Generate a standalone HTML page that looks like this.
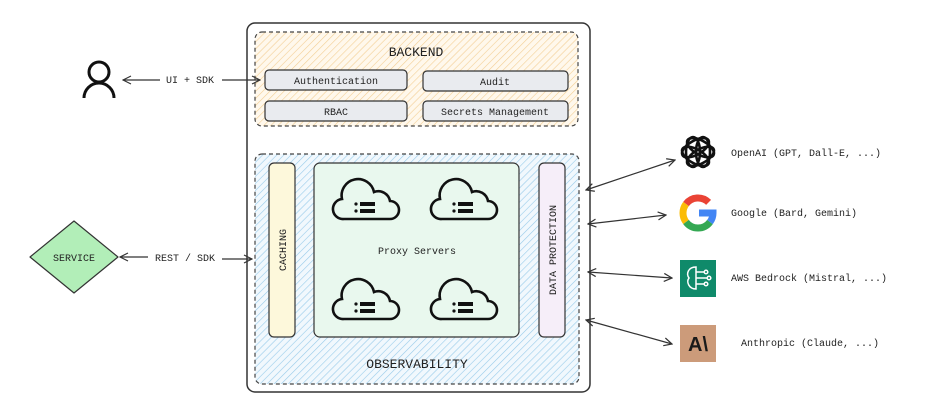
<!DOCTYPE html>
<html><head><meta charset="utf-8"><style>
body{margin:0;background:#fff;}
text{font-family:"Liberation Mono","DejaVu Sans Mono",monospace;fill:#222;}
</style></head><body>
<svg width="934" height="400" viewBox="0 0 934 400" xmlns="http://www.w3.org/2000/svg">
<defs>
<pattern id="ho" width="5" height="5" patternUnits="userSpaceOnUse" patternTransform="rotate(45)"><rect width="5" height="5" fill="#fff8ec"/><line x1="0" y1="0" x2="0" y2="5" stroke="#f3cf95" stroke-width="1.2"/></pattern>
<pattern id="hb" width="5" height="5" patternUnits="userSpaceOnUse" patternTransform="rotate(45)"><rect width="5" height="5" fill="#f1f8fd"/><line x1="0" y1="0" x2="0" y2="5" stroke="#98cbea" stroke-width="1.2"/></pattern>
<marker id="a" markerWidth="10" markerHeight="10" refX="9" refY="5" orient="auto-start-reverse" markerUnits="userSpaceOnUse"><path d="M1,1 L9,5 L1,9" fill="none" stroke="#333" stroke-width="1.2"/></marker>
<g id="cl"><path d="M10,39 A10,10 0 0 1 8,19 A16,16 0 0 1 40,12 A12,12 0 0 1 56,21 A9,9 0 0 1 56,39 Z" fill="none" stroke="#111" stroke-width="2.6"/>
<circle cx="22" cy="24" r="1.6" fill="#111"/><circle cx="22" cy="31" r="1.6" fill="#111"/><rect x="26" y="22" width="15" height="4" fill="#111"/><rect x="26" y="29" width="15" height="4" fill="#111"/></g>
</defs>
<rect x="247" y="23" width="343" height="369" rx="8" fill="#fff" stroke="#333" stroke-width="1.5"/>
<rect x="255" y="32" width="323" height="94" rx="7" fill="url(#ho)" stroke="#444" stroke-width="1.2" stroke-dasharray="4,3"/>
<text x="416" y="56" font-size="13" text-anchor="middle">BACKEND</text>
<g font-size="10" text-anchor="middle">
<rect x="265" y="70" width="142" height="20" rx="4" fill="#e9ebef" stroke="#333" stroke-width="1.2"/><text x="336" y="84">Authentication</text>
<rect x="423" y="71" width="145" height="20" rx="4" fill="#e9ebef" stroke="#333" stroke-width="1.2"/><text x="495" y="85">Audit</text>
<rect x="265" y="101" width="142" height="20" rx="4" fill="#e9ebef" stroke="#333" stroke-width="1.2"/><text x="336" y="115">RBAC</text>
<rect x="423" y="101" width="145" height="20" rx="4" fill="#e9ebef" stroke="#333" stroke-width="1.2"/><text x="495" y="115">Secrets Management</text>
</g>
<rect x="255" y="154" width="324" height="230" rx="7" fill="url(#hb)" stroke="#444" stroke-width="1.2" stroke-dasharray="4,3"/>
<rect x="269" y="163" width="26" height="174" rx="5" fill="#fdf8db" stroke="#333" stroke-width="1.2"/>
<text transform="translate(286,250) rotate(-90)" font-size="10" text-anchor="middle">CACHING</text>
<rect x="314" y="163" width="205" height="174" rx="6" fill="#e9f8ee" stroke="#333" stroke-width="1.2"/>
<text x="417" y="254" font-size="10" text-anchor="middle">Proxy Servers</text>
<use href="#cl" x="334" y="180"/><use href="#cl" x="432" y="180"/>
<use href="#cl" x="334" y="280"/><use href="#cl" x="432" y="280"/>
<rect x="539" y="163" width="26" height="174" rx="5" fill="#f6eef9" stroke="#333" stroke-width="1.2"/>
<text transform="translate(556,250) rotate(-90)" font-size="10" text-anchor="middle">DATA PROTECTION</text>
<text x="417" y="368" font-size="13" text-anchor="middle">OBSERVABILITY</text>
<!-- person -->
<circle cx="99" cy="72" r="10" fill="none" stroke="#111" stroke-width="3"/>
<path d="M84,98 A15,15 0 0 1 114,98" fill="none" stroke="#111" stroke-width="3"/>
<line x1="123" y1="80" x2="160" y2="80" stroke="#333" stroke-width="1.2" marker-start="url(#a)"/>
<text x="190" y="83" font-size="10" text-anchor="middle">UI + SDK</text>
<line x1="222" y1="80" x2="260" y2="80" stroke="#333" stroke-width="1.2" marker-end="url(#a)"/>
<!-- service -->
<path d="M74,221 L118,257 L74,293 L30,257 Z" fill="#b2eeb8" stroke="#333" stroke-width="1.2" stroke-linejoin="round"/>
<text x="74" y="261" font-size="10" text-anchor="middle">SERVICE</text>
<line x1="120" y1="257" x2="148" y2="257" stroke="#333" stroke-width="1.2" marker-start="url(#a)"/>
<text x="185" y="261" font-size="10" text-anchor="middle">REST / SDK</text>
<line x1="222" y1="259" x2="252" y2="259" stroke="#333" stroke-width="1.2" marker-end="url(#a)"/>
<!-- provider arrows -->
<g stroke="#333" stroke-width="1.2" marker-start="url(#a)" marker-end="url(#a)">
<line x1="586" y1="190" x2="675" y2="160"/>
<line x1="588" y1="224" x2="666" y2="215"/>
<line x1="588" y1="272" x2="672" y2="278"/>
<line x1="586" y1="320" x2="672" y2="344"/>
</g>
<!-- openai -->
<g transform="translate(698,152)" fill="none" stroke="#111" stroke-width="2.6">
<ellipse rx="7" ry="15" transform="rotate(0) translate(5,0)"/>
<ellipse rx="7" ry="15" transform="rotate(60) translate(5,0)"/>
<ellipse rx="7" ry="15" transform="rotate(120) translate(5,0)"/>
<ellipse rx="7" ry="15" transform="rotate(180) translate(5,0)"/>
<ellipse rx="7" ry="15" transform="rotate(240) translate(5,0)"/>
<ellipse rx="7" ry="15" transform="rotate(300) translate(5,0)"/>
</g>
<!-- google -->
<g transform="translate(698,213)" fill="none" stroke-width="7">
<path d="M10.6,-10.6 A15,15 0 0 0 -12,-9" stroke="#ea4335"/>
<path d="M-12,-9 A15,15 0 0 0 -12,9" stroke="#fbbc05"/>
<path d="M-12,9 A15,15 0 0 0 12,9" stroke="#34a853"/>
<path d="M12,9 A15,15 0 0 0 15,0 L1,0" stroke="#4285f4"/>
</g>
<!-- aws -->
<rect x="680" y="260" width="36" height="37" fill="#0f8a6a"/>
<g transform="translate(698,278)" fill="none" stroke="#fff" stroke-width="1.5">
<path d="M-2,-11 C-10,-11 -12,-4 -9,0 C-12,4 -9,11 -2,11 Z"/>
<path d="M-2,-6 L6,-6 M-2,0 L9,0 M-2,6 L6,6"/>
<circle cx="8" cy="-6" r="1.8"/><circle cx="11" cy="0" r="1.8"/><circle cx="8" cy="6" r="1.8"/>
</g>
<!-- anthropic -->
<rect x="680" y="325" width="36" height="37" fill="#cc9b7a"/>
<text x="698" y="351" font-size="20" font-weight="bold" text-anchor="middle" style="font-family:'Liberation Sans',sans-serif;fill:#1a1a1a">A\</text>
<g font-size="10">
<text x="731" y="156">OpenAI (GPT, Dall-E, ...)</text>
<text x="731" y="216">Google (Bard, Gemini)</text>
<text x="731" y="281">AWS Bedrock (Mistral, ...)</text>
<text x="741" y="346">Anthropic (Claude, ...)</text>
</g>
</svg>
</body></html>
